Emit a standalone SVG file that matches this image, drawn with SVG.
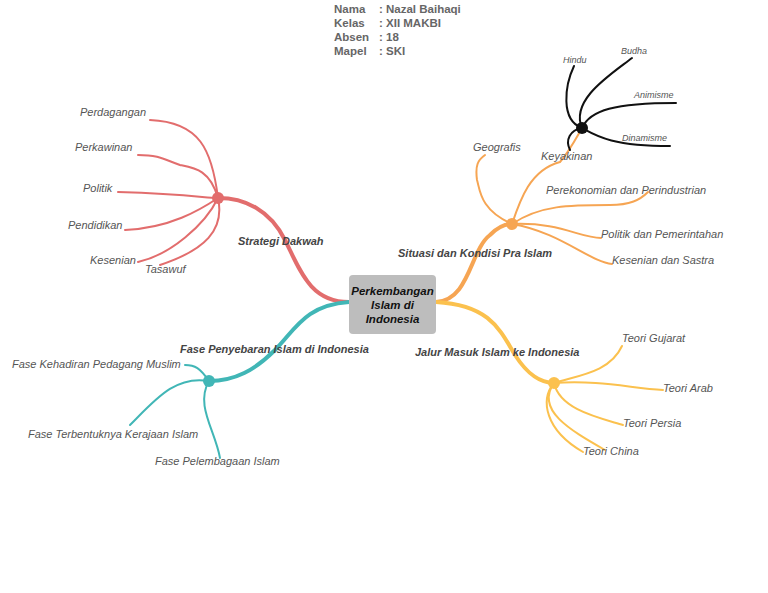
<svg xmlns="http://www.w3.org/2000/svg" width="768" height="593" viewBox="0 0 768 593">
<style>
text{font-family:"Liberation Sans",Arial,sans-serif;font-style:italic;font-size:11px;fill:#555}
.h{font-style:normal;font-weight:bold;font-size:11.5px;fill:#666}
.m{font-weight:bold;fill:#444}
.c{font-weight:bold;font-size:11.5px;fill:#111}
path{fill:none;stroke-linecap:round}
.r{stroke:#e26d6d}.o{stroke:#f6a553}.y{stroke:#fbc14e}.t{stroke:#41b6b6}.k{stroke:#111}
.w{stroke-width:4}.n{stroke-width:2}
</style>
<rect width="768" height="593" fill="#fff"/>
<g id="header">
<text class="h" x="334" y="13">Nama</text><text class="h" x="379" y="13">: Nazal Baihaqi</text>
<text class="h" x="334" y="27">Kelas</text><text class="h" x="379" y="27">: XII MAKBI</text>
<text class="h" x="334" y="41">Absen</text><text class="h" x="379" y="41">: 18</text>
<text class="h" x="334" y="55">Mapel</text><text class="h" x="379" y="55">: SKI</text>
</g>
<g id="connectors">
<path class="r w" d="M349,302 C310,302 300,270 285,240 C270,210 245,198 218,198"/>
<path class="r n" d="M218,198 C212,150 200,122 150,120"/>
<path class="r n" d="M218,198 C210,170 195,168 180,165 C165,160 160,155 138,155"/>
<path class="r n" d="M218,198 C205,198 190,194 118,192"/>
<path class="r n" d="M218,198 C200,210 170,228 125,230"/>
<path class="r n" d="M218,198 C205,225 170,255 138,262"/>
<path class="r n" d="M218,198 C225,230 205,250 160,265"/>
<path class="o w" d="M436,302 C470,300 470,250 490,235 C497,228 503,224 512,224"/>
<path class="o n" d="M512,224 C480,210 480,190 477,180 C475,165 478,160 485,155"/>
<path class="o n" d="M512,224 C520,200 530,170 560,162 C570,150 575,140 582,128"/>
<path class="o n" d="M512,224 C540,205 570,205 610,205 C630,205 640,200 648,192"/>
<path class="o n" d="M512,224 C560,222 580,238 601,238"/>
<path class="o n" d="M512,224 C560,232 590,262 612,264"/>
<path class="y w" d="M436,302 C490,305 500,330 515,355 C528,375 540,383 554,383"/>
<path class="y n" d="M554,383 C580,375 610,372 622,346"/>
<path class="y n" d="M554,383 C600,380 630,388 663,390"/>
<path class="y n" d="M554,383 C560,410 600,418 623,425"/>
<path class="y n" d="M554,383 C535,410 570,430 605,450"/>
<path class="y n" d="M554,383 C540,400 545,430 583,452"/>
<path class="t w" d="M349,302 C305,305 295,330 275,350 C255,370 235,381 209,381"/>
<path class="t n" d="M209,381 C200,368 195,365 185,365"/>
<path class="t n" d="M209,381 C175,375 155,400 130,425"/>
<path class="t n" d="M209,381 C195,405 215,430 220,458"/>
<path class="k n" d="M582,128 C560,120 565,85 574,66"/>
<path class="k n" d="M582,128 C570,100 610,75 632,58"/>
<path class="k n" d="M582,128 C590,110 615,103 676,103"/>
<path class="k n" d="M582,128 C595,135 610,146 670,146"/>
<path class="k n" d="M582,128 C570,130 565,140 570,150"/>
</g>
<g id="center">
<rect x="349" y="275" width="87" height="59" rx="4" fill="#bdbdbd"/>
<text class="c" x="392.5" y="295" text-anchor="middle">Perkembangan</text>
<text class="c" x="392.5" y="309" text-anchor="middle">Islam di</text>
<text class="c" x="392.5" y="323" text-anchor="middle">Indonesia</text>
</g>
<g id="strategi"><circle cx="218" cy="198" r="6" fill="#e26d6d"/><text class="m" x="238" y="245">Strategi Dakwah</text>
<text x="80" y="116">Perdagangan</text><text x="75" y="151">Perkawinan</text><text x="83" y="192">Politik</text><text x="68" y="229">Pendidikan</text><text x="90" y="264">Kesenian</text><text x="145" y="273">Tasawuf</text></g>
<g id="situasi"><circle cx="512" cy="224" r="6" fill="#f6a553"/><text class="m" x="398" y="257">Situasi dan Kondisi Pra Islam</text>
<text x="473" y="151">Geografis</text><text x="541" y="160">Keyakinan</text><text x="546" y="194">Perekonomian dan Perindustrian</text><text x="601" y="238">Politik dan Pemerintahan</text><text x="612" y="264">Kesenian dan Sastra</text></g>
<g id="keyakinan"><circle cx="582" cy="128" r="6" fill="#111"/>
<text x="563" y="63" style="font-size:9px">Hindu</text><text x="621" y="54" style="font-size:9px">Budha</text><text x="634" y="98" style="font-size:9px">Animisme</text><text x="622" y="141" style="font-size:9px">Dinamisme</text></g>
<g id="jalur"><circle cx="554" cy="383" r="6" fill="#fbc14e"/><text class="m" x="415" y="356">Jalur Masuk Islam ke Indonesia</text>
<text x="622" y="342">Teori Gujarat</text><text x="663" y="392">Teori Arab</text><text x="623" y="427">Teori Persia</text><text x="583" y="455">Teori China</text></g>
<g id="fase"><circle cx="209" cy="381" r="6" fill="#41b6b6"/><text class="m" x="180" y="353">Fase Penyebaran Islam di Indonesia</text>
<text x="12" y="368">Fase Kehadiran Pedagang Muslim</text><text x="28" y="438">Fase Terbentuknya Kerajaan Islam</text><text x="155" y="465">Fase Pelembagaan Islam</text></g>
</svg>
